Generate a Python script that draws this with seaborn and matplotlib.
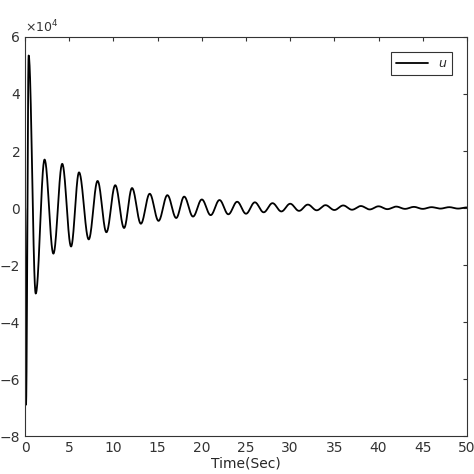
import numpy as np
import matplotlib
matplotlib.use("Agg")
import matplotlib.pyplot as plt
import seaborn as sns

# extrema of u (x1e4)
ext_t = [0.0, 0.1, 0.4, 1.2, 2.2, 3.2, 4.2, 5.2, 6.1, 7.2, 8.2, 9.2, 10.2, 11.2, 12.1, 13.1, 14.1, 15.1,
         16.1, 17.1, 18.0, 19.0, 20.0, 21.0, 22.0, 23.0, 24.0, 25.0, 26.0, 27.0, 28.0, 29.0, 30.0, 31.0,
         32.0, 33.0, 34.0, 35.0, 36.0, 37.0, 38.0, 39.0, 40.0, 41.0, 42.0, 43.0, 44.0, 45.0, 46.0, 47.0,
         48.0, 49.0, 50.0]
ext_u = [0.0, -6.9, 5.35, -3.0, 1.7, -1.6, 1.55, -1.35, 1.25, -1.1, 0.95, -0.85, 0.8, -0.7, 0.7, -0.55,
         0.5, -0.45, 0.45, -0.35, 0.4, -0.3, 0.3, -0.25, 0.28, -0.22, 0.22, -0.2, 0.2, -0.15, 0.17, -0.12,
         0.15, -0.1, 0.12, -0.08, 0.1, -0.07, 0.09, -0.06, 0.07, -0.05, 0.06, -0.04, 0.05, -0.03, 0.04,
         -0.03, 0.03, -0.02, 0.03, -0.02, 0.02]

# join extrema with half-cosine segments
ts, us = [], []
for i in range(len(ext_t) - 1):
    s = np.linspace(0, 1, 30, endpoint=False)
    w = (1 - np.cos(np.pi * s)) / 2
    ts.extend(ext_t[i] + (ext_t[i + 1] - ext_t[i]) * s)
    us.extend(ext_u[i] + (ext_u[i + 1] - ext_u[i]) * w)
ts.append(ext_t[-1]); us.append(ext_u[-1])

sns.set_style("white")
plt.rcParams['font.family'] = ['DejaVu Sans']
fig, ax = plt.subplots(figsize=(4.74, 4.74), dpi=100)
fig.subplots_adjust(left=0.053, right=0.985, top=0.922, bottom=0.08)
sns.lineplot(x=ts, y=us, ax=ax, color='black', lw=1.3, label='$u$', sort=False)
ax.set_xlim(0, 50); ax.set_ylim(-8, 6)
ax.set_xticks(range(0, 51, 5)); ax.set_yticks(range(-8, 7, 2))
ax.tick_params(direction='in', length=3, labelsize=10, colors='#333333', top=True, right=True)
for sp in ax.spines.values():
    sp.set_color('#333333'); sp.set_linewidth(0.8)
ax.set_xlabel('Time(Sec)', fontsize=10, labelpad=1)
ax.text(0, 1.005, r'$\times10^4$', transform=ax.transAxes, fontsize=9, va='bottom', color='#333333')
leg = ax.legend(loc='upper right', fancybox=False, edgecolor='black', fontsize=9,
                handlelength=2.5, borderaxespad=1.2)
leg.get_frame().set_linewidth(0.8)
fig.savefig('out.png', dpi=100)
